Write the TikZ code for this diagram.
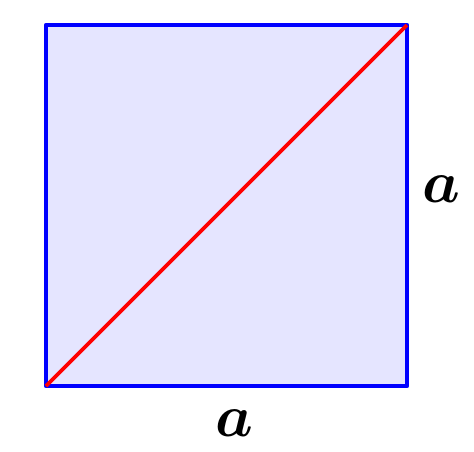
\RequirePackage{fix-cm}
\documentclass[tikz,border=0pt]{standalone}
\usepackage{bm}
\begin{document}
\begin{tikzpicture}[x=0.02cm,y=-0.02cm,
  sq/.style={draw=blue,fill=blue!10,line width=2.6pt,line join=round},
  diag/.style={draw=red,line width=2.1pt},
  lbl/.style={inner sep=0pt,font=\fontsize{34}{40}\selectfont}]
\useasboundingbox (0,0) rectangle (474,451);
\coordinate (A) at (46,386);
\coordinate (B) at (407,386);
\coordinate (C) at (407,25);
\coordinate (D) at (46,25);
\path[sq] (A) -- (B) -- (C) -- (D) -- cycle;
\draw[diag] (A) -- (C);
\node[lbl] (la) at (234,423) {$\bm{a}$};
\node[lbl] (lb) at (441,189) {$\bm{a}$};
\end{tikzpicture}
\end{document}
